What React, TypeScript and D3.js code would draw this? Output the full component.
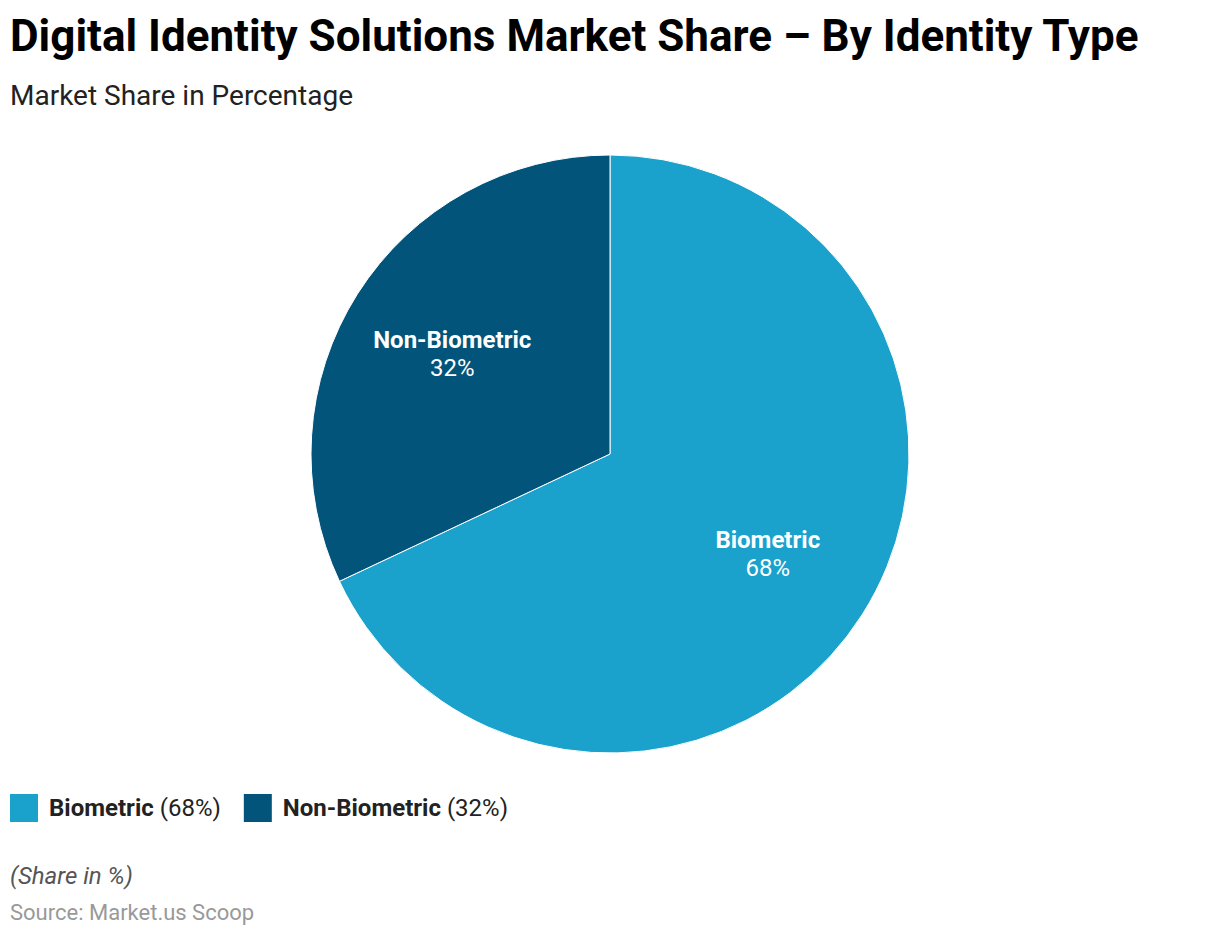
import React, { useEffect, useRef } from 'react';
import * as d3 from 'd3';

const categories = ['Biometric', 'Non-Biometric'];
const shares = [68, 32];
const colors = ['#1aa1cc', '#02547a'];

const W = 1220;
const H = 936;

const App: React.FC = () => {
  const svgRef = useRef<SVGSVGElement>(null);

  useEffect(() => {
    if (!svgRef.current) return;
    const svg = d3.select(svgRef.current);
    svg.selectAll('*').remove();

    const font = 'Roboto, "Noto Sans", sans-serif';
    const data = categories.map((c, i) => ({ name: c, value: shares[i], color: colors[i] }));

    // Title + subtitle
    svg.append('text')
      .attr('x', 10)
      .attr('y', 51)
      .attr('font-family', font)
      .attr('font-weight', 'bold')
      .attr('font-size', '44px')
      .attr('fill', '#000')
      .text('Digital Identity Solutions Market Share – By Identity Type');

    svg.append('text')
      .attr('x', 10)
      .attr('y', 105)
      .attr('font-family', font)
      .attr('font-size', '28px')
      .attr('fill', '#222')
      .text('Market Share in Percentage');

    // Pie
    const cx = 610;
    const cy = 454;
    const r = 299;

    const pie = d3.pie<typeof data[0]>().value(d => d.value).sort(null);
    const arc = d3.arc<d3.PieArcDatum<typeof data[0]>>().innerRadius(0).outerRadius(r);
    const labelArc = d3.arc<d3.PieArcDatum<typeof data[0]>>().innerRadius(r * 0.625).outerRadius(r * 0.625);

    const g = svg.append('g').attr('transform', `translate(${cx},${cy})`);
    const arcs = pie(data);

    g.selectAll('path')
      .data(arcs)
      .join('path')
      .attr('d', arc)
      .attr('fill', d => d.data.color)
      .attr('stroke', '#fff')
      .attr('stroke-width', 1);

    arcs.forEach(d => {
      const [lx, ly] = labelArc.centroid(d);
      g.append('text')
        .attr('x', lx)
        .attr('y', ly - 6)
        .attr('text-anchor', 'middle')
        .attr('font-family', font)
        .attr('font-weight', 'bold')
        .attr('font-size', '24px')
        .attr('fill', '#fff')
        .text(d.data.name);
      g.append('text')
        .attr('x', lx)
        .attr('y', ly + 22)
        .attr('text-anchor', 'middle')
        .attr('font-family', font)
        .attr('font-size', '24px')
        .attr('fill', '#fff')
        .text(`${d.data.value}%`);
    });

    // Legend
    const legend = svg.append('g').attr('transform', 'translate(10,794)');
    let lxPos = 0;
    data.forEach(d => {
      const item = legend.append('g').attr('transform', `translate(${lxPos},0)`);
      item.append('rect')
        .attr('width', 28)
        .attr('height', 28)
        .attr('fill', d.color);
      const t = item.append('text')
        .attr('x', 39)
        .attr('y', 22)
        .attr('font-family', font)
        .attr('font-size', '24px')
        .attr('fill', '#222');
      t.append('tspan').attr('font-weight', 'bold').text(d.name);
      t.append('tspan').text(` (${d.value}%)`);
      const node = t.node() as SVGTextElement;
      lxPos += 39 + node.getComputedTextLength() + 23;
    });

    // Footer
    svg.append('text')
      .attr('x', 10)
      .attr('y', 884)
      .attr('font-family', font)
      .attr('font-style', 'italic')
      .attr('font-size', '24px')
      .attr('fill', '#555')
      .text('(Share in %)');

    svg.append('text')
      .attr('x', 10)
      .attr('y', 920)
      .attr('font-family', font)
      .attr('font-size', '22px')
      .attr('fill', '#999')
      .text('Source: Market.us Scoop');
  }, []);

  return (
    <svg
      ref={svgRef}
      width={W}
      height={H}
      style={{ position: 'absolute', left: 0, top: 0, background: '#fff' }}
    />
  );
};

export default App;
